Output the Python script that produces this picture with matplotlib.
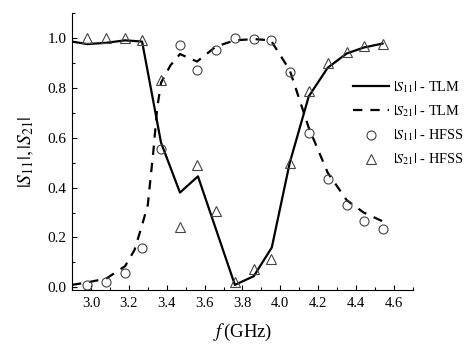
"""S-parameter magnitudes: transmission-line model vs. HFSS simulation."""

import matplotlib
matplotlib.use("Agg")
import matplotlib.pyplot as plt
from matplotlib.ticker import MultipleLocator, FormatStrFormatter


# HFSS sample frequencies (GHz) and magnitudes
f_hfss = [2.98, 3.08, 3.18, 3.27, 3.37, 3.47, 3.56, 3.66, 3.76,
          3.86, 3.95, 4.05, 4.15, 4.25, 4.35, 4.44, 4.54]
s11_hfss = [0.01, 0.023, 0.058, 0.157, 0.556, 0.97, 0.87, 0.95, 1.0,
            0.995, 0.99, 0.864, 0.62, 0.436, 0.33, 0.268, 0.235]
s21_hfss = [1.0, 1.0, 1.0, 0.99, 0.83, 0.24, 0.49, 0.305, 0.02,
            0.072, 0.112, 0.5, 0.785, 0.90, 0.945, 0.968, 0.975]

# transmission-line model results
f_s11_tlm = [2.90, 2.98, 3.08, 3.18, 3.27, 3.37, 3.47, 3.565, 3.76,
             3.86, 3.955, 4.05, 4.15, 4.25, 4.35, 4.44, 4.54]
s11_tlm = [0.985, 0.975, 0.98, 0.99, 0.985, 0.58, 0.38, 0.445, 0.01,
           0.045, 0.16, 0.50, 0.765, 0.88, 0.937, 0.961, 0.977]

f_s21_tlm = [2.90, 2.98, 3.08, 3.18, 3.23, 3.27, 3.30, 3.33, 3.35, 3.37,
             3.42, 3.47, 3.56, 3.66, 3.76, 3.86, 3.95, 4.05, 4.15,
             4.25, 4.35, 4.44, 4.54]
s21_tlm = [0.01, 0.02, 0.035, 0.085, 0.15, 0.25, 0.33, 0.55, 0.72, 0.82,
           0.89, 0.935, 0.905, 0.965, 0.99, 0.995, 0.99, 0.87, 0.64,
           0.46, 0.35, 0.30, 0.265]

plt.rcParams["font.family"] = "serif"
plt.rcParams["font.serif"] = ["Liberation Serif", "DejaVu Serif"]
plt.rcParams["mathtext.fontset"] = "stix"

fig = plt.figure(figsize=(4.74, 3.48), dpi=100)
ax = fig.add_axes([0.152, 0.167, 0.719, 0.796])

ax.plot(f_s11_tlm, s11_tlm, color="black", lw=1.6, label=r"$|S_{11}|$ - TLM")
ax.plot(f_s21_tlm, s21_tlm, color="black", lw=1.6, ls=(0, (4.2, 3.6)),
        label=r"$|S_{21}|$ - TLM")
ax.plot(f_hfss, s11_hfss, ls="none", marker="o", ms=6.5, mfc="none",
        mec="#444444", mew=0.8, label=r"$|S_{11}|$ - HFSS")
ax.plot(f_hfss, s21_hfss, ls="none", marker="^", ms=7, mfc="none",
        mec="#444444", mew=0.8, label=r"$|S_{21}|$ - HFSS")

ax.set_xlim(2.9, 4.7)
ax.set_ylim(-0.01, 1.1)
ax.xaxis.set_major_locator(MultipleLocator(0.2))
ax.xaxis.set_minor_locator(MultipleLocator(0.1))
ax.yaxis.set_major_locator(MultipleLocator(0.2))
ax.yaxis.set_minor_locator(MultipleLocator(0.1))
ax.xaxis.set_major_formatter(FormatStrFormatter("%.1f"))
ax.yaxis.set_major_formatter(FormatStrFormatter("%.1f"))

for side in ("top", "right"):
    ax.spines[side].set_visible(False)
ax.tick_params(which="both", direction="in", width=0.8)
ax.tick_params(axis="x", labelsize=10.5, pad=5)
ax.tick_params(axis="y", labelsize=11, pad=4)
ax.tick_params(which="major", length=3.5)
ax.tick_params(which="minor", length=2)

ax.set_xlabel(r"$f\,$(GHz)", fontsize=13.5, labelpad=9)
ax.set_ylabel(r"$|S_{11}|,|S_{21}|$", fontsize=14, labelpad=8)

ax.legend(loc="upper left", bbox_to_anchor=(0.825, 0.76), frameon=False,
          fontsize=10.3, borderpad=0, borderaxespad=0, handlelength=2.5,
          handletextpad=0.3, labelspacing=0.58)

fig.savefig("out.png", dpi=100)
